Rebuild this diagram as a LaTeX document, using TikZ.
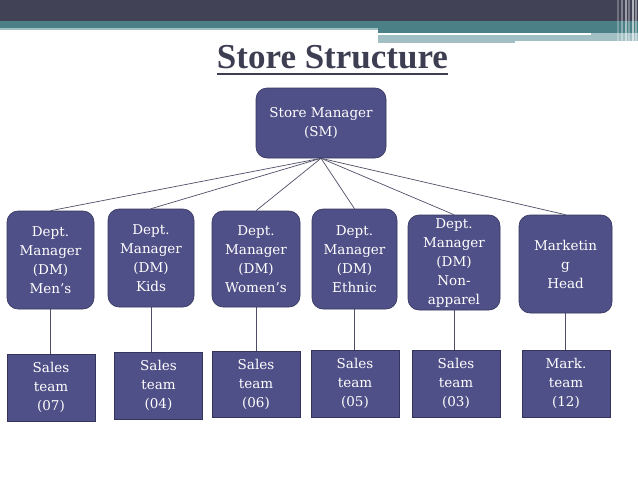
\documentclass[tikz,border=0pt]{standalone}
\usepackage{fontspec}
\setmainfont{DejaVu Serif}
\newfontfamily\titlefont{Liberation Serif}
\usepackage{tikz}

\definecolor{bardark}{RGB}{66,66,86}
\definecolor{barteal}{RGB}{74,128,134}
\definecolor{barlight}{RGB}{162,192,196}
\definecolor{boxfill}{RGB}{80,80,136}
\definecolor{boxline}{RGB}{52,52,92}
\definecolor{wire}{RGB}{78,78,104}
\definecolor{titleink}{RGB}{62,62,82}

\tikzset{
  mgrbox/.style={draw=boxline,fill=boxfill,rounded corners=11pt,text=white,
    align=center,inner sep=0pt,line width=0.6pt,
    font=\fontsize{13.5}{19}\selectfont},
  teambox/.style={draw=boxline,fill=boxfill,text=white,align=center,
    inner sep=0pt,line width=0.6pt,minimum width=88pt,minimum height=67pt,
    font=\fontsize{13.5}{19}\selectfont},
  wire/.style={draw=wire,line width=0.7pt}
}

\begin{document}
\begin{tikzpicture}[x=1pt,y=1pt]
\useasboundingbox (0,-479) rectangle (638,0);
% header bands:
\path[fill=bardark] (0,0) rectangle (638,-21);
\path[fill=barteal] (0,-21) rectangle (638,-28);
\path[fill=barlight] (0,-28) rectangle (378,-30);
\path[fill=barteal] (378,-28) rectangle (638,-33);
\path[fill=barlight] (591,-33) rectangle (638,-35);
\path[fill=barlight] (378,-35) rectangle (515,-43);
\path[fill=barlight] (515,-35) rectangle (638,-41);
\foreach \sx/\op in {618/0.25,622/0.35,626/0.5,629/0.3,633/0.6,636/0.4}
  \path[draw=white,opacity=\op,line width=1.2pt] (\sx,0) -- (\sx,-43);
% title:
\node[anchor=base,inner sep=0pt,text=titleink,
  font=\titlefont\bfseries\fontsize{35}{40}\selectfont] (title) at (332.5,-68) {Store Structure};
\path[draw=titleink,line width=2.6pt] ([yshift=-6pt]title.base west) -- ([yshift=-6pt]title.base east);
% top box:
\node[mgrbox,minimum width=130pt,minimum height=70pt] (sm) at (321,-123) {Store Manager\\(SM)};
% department heads:
\node[mgrbox,minimum width=87pt,minimum height=98pt] (dmmen) at (50.5,-260) {Dept.\\Manager\\(DM)\\Men’s};
\node[mgrbox,minimum width=86pt,minimum height=98pt] (dmkids) at (151,-258) {Dept.\\Manager\\(DM)\\Kids};
\node[mgrbox,minimum width=88pt,minimum height=96pt] (dmwomen) at (256,-259) {Dept.\\Manager\\(DM)\\Women’s};
\node[mgrbox,minimum width=85pt,minimum height=100pt] (dmethnic) at (354.5,-259) {Dept.\\Manager\\(DM)\\Ethnic};
\node[mgrbox,minimum width=92pt,minimum height=95pt] (dmnonapp) at (454,-262.5) {Dept.\\Manager\\(DM)\\Non-\\apparel};
\node[mgrbox,minimum width=93pt,minimum height=98pt] (mkthead) at (565.5,-264) {Marketin\\g\\Head};
% teams:
\node[teambox] (tmen) at (51,-387.5) {Sales\\team\\(07)};
\node[teambox] (tkids) at (158.5,-385.5) {Sales\\team\\(04)};
\node[teambox,minimum height=66pt] (twomen) at (256,-384) {Sales\\team\\(06)};
\node[teambox] (tethnic) at (355,-383.5) {Sales\\team\\(05)};
\node[teambox] (tnonapp) at (456,-383.5) {Sales\\team\\(03)};
\node[teambox] (tmkt) at (566,-383.5) {Mark.\\team\\(12)};
% connectors:
\foreach \dm in {dmmen,dmkids,dmwomen,dmethnic,dmnonapp,mkthead}
  \path[wire] (sm.south) -- (\dm.north);
\foreach \dm/\tm in {dmmen/tmen,dmkids/tkids,dmwomen/twomen,dmethnic/tethnic,dmnonapp/tnonapp,mkthead/tmkt}
  \path[wire] (\dm.south) -- (\dm.south |- \tm.north);
\end{tikzpicture}
\end{document}
